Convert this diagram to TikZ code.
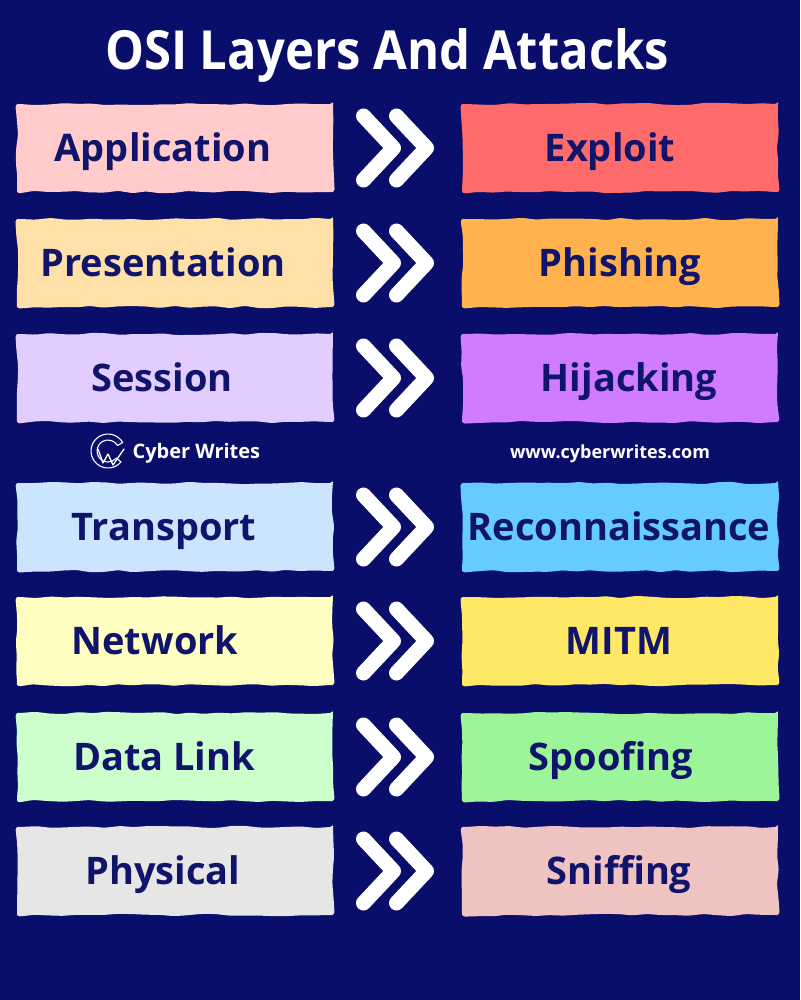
\documentclass[tikz,border=0pt]{standalone}
\usepackage{fontspec}
\setmainfont{Open Sans}
\usetikzlibrary{decorations.pathmorphing,calc}
\definecolor{bgc}{HTML}{0A0E6B}
\definecolor{txc}{HTML}{10146A}
\definecolor{cAl}{HTML}{FFCCCB}\definecolor{cAr}{HTML}{FF6B6B}
\definecolor{cBl}{HTML}{FFE0A8}\definecolor{cBr}{HTML}{FFB24D}
\definecolor{cCl}{HTML}{E3CCFF}\definecolor{cCr}{HTML}{D07CFF}
\definecolor{cDl}{HTML}{CCE5FF}\definecolor{cDr}{HTML}{66CCFF}
\definecolor{cEl}{HTML}{FFFFC2}\definecolor{cEr}{HTML}{FFE866}
\definecolor{cFl}{HTML}{CCFFCC}\definecolor{cFr}{HTML}{9DF59A}
\definecolor{cGl}{HTML}{E6E6E6}\definecolor{cGr}{HTML}{F0C3C3}
\tikzset{
  wbox/.style={minimum width=316pt, minimum height=88pt, inner sep=0pt,
    text height=27pt, text depth=0pt, text=txc,
    font=\fontsize{38}{44}\selectfont\bfseries,
    decorate, decoration={random steps, segment length=14pt, amplitude=1.2pt},
    rounded corners=3pt},
  chev/.style={draw=white, line width=15pt, line cap=round, line join=round},
}
\begin{document}
\begin{tikzpicture}[x=1pt,y=-1pt]
\pgfmathsetseed{7}
\fill[bgc] (0,0) rectangle (800,1000);
\useasboundingbox (0,0) rectangle (800,1000);
\node[anchor=base, text=white, font=\fontsize{49}{56}\selectfont\bfseries] (title) at (387,70) {\scalebox{1}[1.1]{OSI Layers And Attacks}};
% rows
\foreach \n/\y/\cl/\cr/\lt/\rt/\dl/\dr in {
  1/148/cAl/cAr/Application/Exploit/-24/-20,
  2/263/cBl/cBr/Presentation/Phishing/-24/0,
  3/378/cCl/cCr/Session/Hijacking/-26/18,
  4/527/cDl/cDr/Transport/Reconnaissance/-22/-2,
  5/641/cEl/cEr/Network/MITM/-40/-2,
  6/757/cFl/cFr/Data Link/Spoofing/-22/-18,
  7/871/cGl/cGr/Physical/Sniffing/-24/-2}{
  \node[wbox, fill=\cl] (l\n) at (175,\y) {\hspace*{\dl pt}\lt};
  \node[wbox, fill=\cr] (r\n) at (620,\y) {\hspace*{\dr pt}\rt};
  \coordinate (m\n) at ($(l\n.east)!0.5!(r\n.west)$);
  \draw[chev] ($(m\n)+(-34,-32)$) -- ($(m\n)+(-4,0)$) -- ($(m\n)+(-34,32)$);
  \draw[chev] ($(m\n)+(-1,-32)$) -- ($(m\n)+(29,0)$) -- ($(m\n)+(-1,32)$);
}
% logo
\coordinate (lg) at (108,451);
\draw[white, line width=1.1pt, line join=round]
  ($(lg)+(40:17)$) arc[start angle=40, end angle=330, radius=17]
  -- ($(lg)+(330:11)$) arc[start angle=330, end angle=40, radius=11] -- cycle;
\draw[white, line width=1.3pt, line join=round, line cap=round]
  ($(lg)+(-10,-2)$) -- ($(lg)+(-5,12)$) -- ($(lg)+(0,3)$) -- ($(lg)+(5,14)$) -- ($(lg)+(16,-2)$);
\node[anchor=base west, text=white, font=\fontsize{20}{24}\selectfont\bfseries] (brand) at (129,458) {Cyber Writes};
\node[anchor=base, text=white, font=\fontsize{18}{22}\selectfont\bfseries] (url) at (610,458) {www.cyberwrites.com};
\end{tikzpicture}
\end{document}
